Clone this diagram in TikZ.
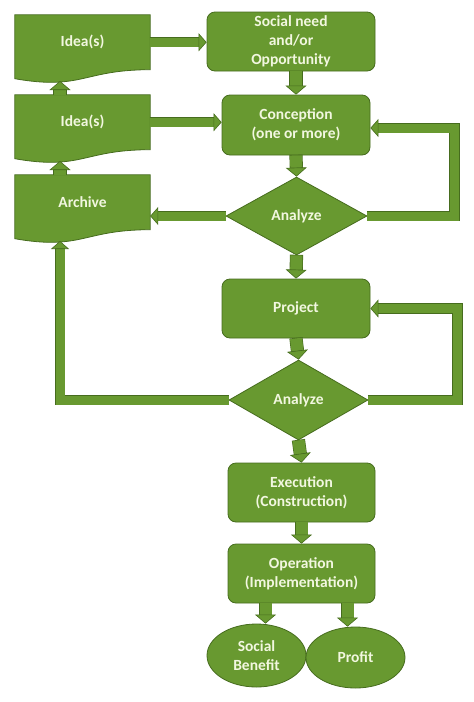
\documentclass[tikz,border=0pt]{standalone}
\usepackage{fontspec}
\setmainfont{Carlito}
\usetikzlibrary{shapes.geometric,arrows.meta,backgrounds}

\definecolor{boxgreen}{RGB}{104,153,48}
\definecolor{edgegreen}{RGB}{70,108,30}
\definecolor{textcream}{RGB}{242,247,224}

\tikzset{
  base/.style = {text = textcream, font = \bfseries\fontsize{15.5}{19}\selectfont, align = center, inner sep = 0pt},
  stage/.style = {base, fill = boxgreen, draw = edgegreen, line width = 0.8pt, rounded corners = 8pt},
  decide/.style = {base, diamond, fill = boxgreen, draw = edgegreen, line width = 0.8pt},
  gain/.style = {base, ellipse, fill = boxgreen, draw = edgegreen, line width = 0.8pt},
  docnode/.style = {base, minimum width = 135pt, minimum height = 54.5pt},
  docshape/.style = {fill = boxgreen, draw = edgegreen, line width = 0.8pt},
  conn/.style = {draw = boxgreen, line width = 9pt, line join = miter,
    -{Triangle[width = 18pt, length = 8pt, line width = 0.6pt, color = edgegreen, fill = boxgreen]},
    preaction = {draw = edgegreen, line width = 10.2pt, shorten > = 5pt, shorten < = -0.6pt, -}},
  bigconn/.style = {draw = boxgreen, line width = 12pt, line join = miter,
    -{Triangle[width = 21pt, length = 9pt, line width = 0.6pt, color = edgegreen, fill = boxgreen]},
    preaction = {draw = edgegreen, line width = 13.2pt, shorten > = 6pt, shorten < = -0.6pt, -}}
}

\begin{document}
\begin{tikzpicture}[x = 1pt, y = -1pt]
\useasboundingbox (0, 0) rectangle (474, 702);

\node[docnode] (idea1) at (82.5, 42.25) {Idea(s)};
\node[docnode] (idea2) at (82.5, 122.25) {Idea(s)};
\node[docnode] (archive) at (82.5, 202.25) {Archive};
\begin{scope}[on background layer]
\foreach \n in {idea1, idea2, archive}
  \filldraw[docshape] (\n.north west) -- (\n.north east) -- (\n.south east)
    .. controls +(-67.5, 0) and +(67.5, 11.8) .. ([yshift = -9pt]\n.south west) -- cycle;
\end{scope}
\coordinate (idea1-b) at (60, 81);
\coordinate (idea2-b) at (60, 161);
\coordinate (archive-b) at (60, 241);

\node[stage, minimum width = 168pt, minimum height = 59pt] (social) at (291, 41.5) {Social need\\and/or\\Opportunity};
\node[stage, minimum width = 148pt, minimum height = 60pt] (conc) at (296, 125) {Conception\\(one or more)};
\node[decide, minimum width = 141pt, minimum height = 78pt] (an1) at (296.5, 216) {Analyze};
\node[stage, minimum width = 148pt, minimum height = 59pt] (proj) at (296, 308.5) {Project};
\node[decide, minimum width = 139pt, minimum height = 80pt] (an2) at (298.5, 400) {Analyze};
\node[stage, minimum width = 147pt, minimum height = 59pt] (exec) at (301.5, 492.5) {Execution\\(Construction)};
\node[stage, minimum width = 147pt, minimum height = 59pt] (oper) at (301.5, 573.5) {Operation\\(Implementation)};
\node[gain, minimum width = 99pt, minimum height = 63pt] (sb) at (256.5, 655.5) {Social\\Benefit};
\node[gain, minimum width = 99pt, minimum height = 61pt] (pr) at (355.5, 657.5) {Profit};

\draw[bigconn] (archive.north -| archive-b) -- (idea2-b);
\draw[bigconn] (idea2.north -| idea2-b) -- (idea1-b);
\draw[conn] (idea1.east) -- (idea1.east -| social.west);
\draw[conn] (idea2.east) -- (idea2.east -| conc.west);
\draw[bigconn] (social.south -| conc.north) -- (conc.north);
\draw[bigconn] (conc.south) -- (an1.north);
\draw[conn] (an1.west) -- (an1.west -| archive.east);
\draw[conn] (an1.east) -- ++(87, 0) |- ([yshift = -3pt]conc.east);
\draw[bigconn] (an1.south) -- (proj.north);
\draw[bigconn] (proj.south) -- (an2.north);
\draw[conn] (an2.east) -- ++(89, 0) |- (proj.east);
\draw[conn] (an2.west) -| (archive-b);
\draw[bigconn] (an2.south) -- (exec.north);
\draw[bigconn] (exec.south) -- (oper.north);
\draw[bigconn] ([xshift = -36pt]oper.south) -- ([xshift = -36pt]oper.south |- sb.north);
\draw[bigconn] ([xshift = 46pt]oper.south) -- ([xshift = 46pt]oper.south |- pr.north);
\end{tikzpicture}
\end{document}
